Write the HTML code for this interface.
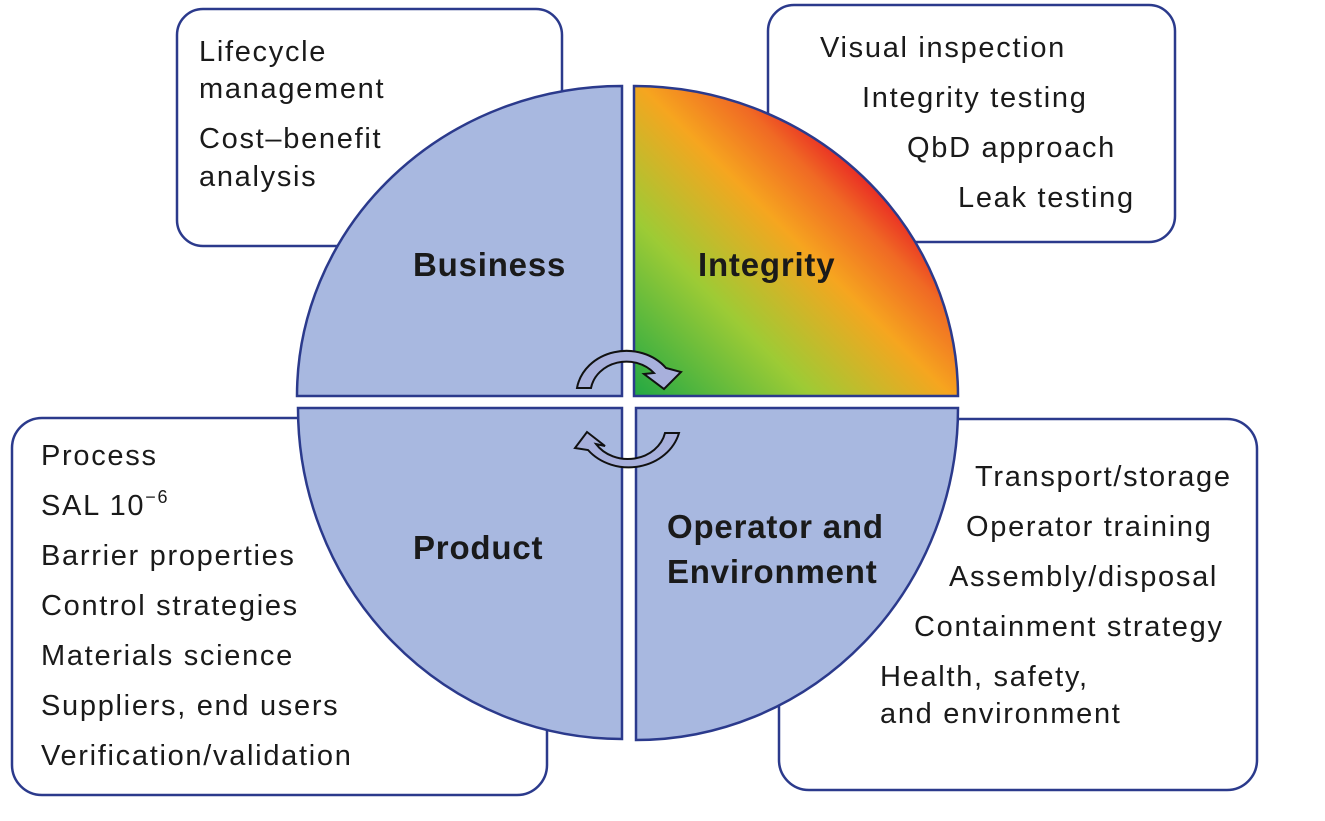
<!DOCTYPE html>
<html><head><meta charset="utf-8"><style>
html,body{margin:0;padding:0;background:#fff;}
svg{display:block;}
text{font-family:"Liberation Sans",sans-serif;fill:#1a1a1a;}
.t{font-size:29px;letter-spacing:1.7px;}
.b{font-size:33px;font-weight:bold;letter-spacing:0.8px;}
</style></head><body>
<svg width="1325" height="821" viewBox="0 0 1325 821" xmlns="http://www.w3.org/2000/svg">
<defs>
<linearGradient id="g" x1="634" y1="396" x2="951" y2="79" gradientUnits="userSpaceOnUse">
<stop offset="0" stop-color="#22a844"/>
<stop offset="0.28" stop-color="#9dcb35"/>
<stop offset="0.5" stop-color="#f6a51f"/>
<stop offset="0.63" stop-color="#f06a24"/>
<stop offset="0.73" stop-color="#e81d25"/>
<stop offset="1" stop-color="#e81d25"/>
</linearGradient>
</defs>
<g fill="#fff" stroke="#2b3a8c" stroke-width="2.5">
<rect x="177" y="9" width="385" height="237" rx="26"/>
<rect x="768" y="5" width="407" height="237" rx="26"/>
<rect x="12" y="418" width="535" height="377" rx="30"/>
<rect x="779" y="419" width="478" height="371" rx="30"/>
</g>
<g stroke="#2b3a8c" stroke-width="2.5">
<path d="M622 396 L297 396 A325 310 0 0 1 622 86 Z" fill="#a8b8e0"/>
<path d="M634 396 L634 86 A324 310 0 0 1 958 396 Z" fill="url(#g)"/>
<path d="M622 408 L298 408 A324 331 0 0 0 622 739 Z" fill="#a8b8e0"/>
<path d="M636 408 L958 408 A322 332 0 0 1 636 740 Z" fill="#a8b8e0"/>
</g>
<g fill="#a8b0dc" stroke="#111" stroke-width="2">
<path d="M577 388 A50 44 0 0 1 666 368 L681 372 L664 389 L644 374 L654 373 A36 32 0 0 0 591 388 Z"/>
<path d="M679 433 A52 46 0 0 1 588 450 L575 448 L587 432 L605 446 L596 444 A38 33 0 0 0 665 433 Z"/>
</g>
<text class="b" x="413" y="276">Business</text>
<text class="b" x="698" y="276">Integrity</text>
<text class="b" x="413" y="559">Product</text>
<text class="b" x="667" y="538">Operator and</text>
<text class="b" x="667" y="583">Environment</text>
<text class="t" x="199" y="61">Lifecycle</text>
<text class="t" x="199" y="98">management</text>
<text class="t" x="199" y="148">Cost–benefit</text>
<text class="t" x="199" y="186">analysis</text>
<text class="t" x="820" y="57">Visual inspection</text>
<text class="t" x="862" y="107">Integrity testing</text>
<text class="t" x="907" y="157">QbD approach</text>
<text class="t" x="958" y="207">Leak testing</text>
<text class="t" x="41" y="465">Process</text>
<text class="t" x="41" y="515">SAL 10<tspan font-size="18" dy="-12">−6</tspan></text>
<text class="t" x="41" y="565">Barrier properties</text>
<text class="t" x="41" y="615">Control strategies</text>
<text class="t" x="41" y="665">Materials science</text>
<text class="t" x="41" y="715">Suppliers, end users</text>
<text class="t" x="41" y="765">Verification/validation</text>
<text class="t" x="975" y="486">Transport/storage</text>
<text class="t" x="966" y="536">Operator training</text>
<text class="t" x="949" y="586">Assembly/disposal</text>
<text class="t" x="914" y="636">Containment strategy</text>
<text class="t" x="880" y="686">Health, safety,</text>
<text class="t" x="880" y="723">and environment</text>
</svg>
</body></html>
